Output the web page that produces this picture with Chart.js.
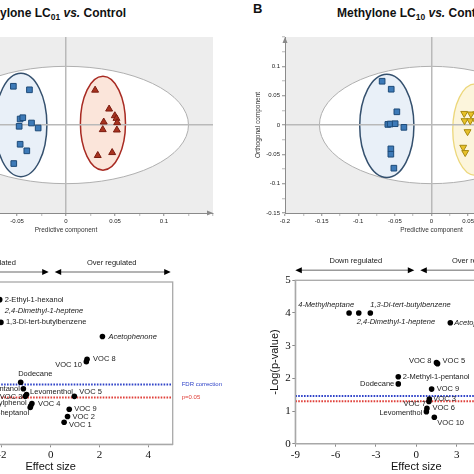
<!DOCTYPE html>
<html>
<head>
<meta charset="utf-8">
<script src="https://cdn.jsdelivr.net/npm/chart.js@4.4.1/dist/chart.umd.min.js"></script>
<style>
  html, body { margin: 0; padding: 0; background: #fff; overflow: hidden; width: 474px; height: 474px; }
  body { position: relative; font-family: "Liberation Sans", Arial, sans-serif; color: #111; }
  canvas { position: absolute; }
  .title { position: absolute; font-weight: bold; font-size: 12px; line-height: 12px; white-space: nowrap; }
  .title .sub { font-size: 8.5px; position: relative; top: 3px; }
  .panel { position: absolute; font-weight: bold; font-size: 13px; line-height: 13px; }
</style>
</head>
<body>
<div class="title" style="left:-28px; top:7px">Methylone LC<span class="sub">01</span> <i>vs.</i> Control</div>
<div class="panel" style="left:253px; top:2px">B</div>
<div class="title" style="left:337px; top:7px">Methylone LC<span class="sub">10</span> <i>vs.</i> Control</div>

<canvas id="scoreA" width="345" height="237" style="left:-125px; top:0"></canvas>
<canvas id="scoreB" width="350" height="237" style="left:237px; top:0"></canvas>
<canvas id="volcanoC" width="357" height="237" style="left:-120px; top:237px"></canvas>
<canvas id="volcanoD" width="320" height="237" style="left:237px; top:237px"></canvas>

<script>
// ---- Score plot A: LC01 vs control ----
const ctrlA_x = [-0.0537, -0.0373, -0.0468, -0.0441, -0.0478, -0.0352, -0.0284, -0.0468, -0.0400, -0.0533, -0.0710];
const ctrlA_y = [0.066, 0.060, 0.0102, 0.0124, -0.0022, 0.0034, -0.0051, -0.0328, -0.044, -0.0657, 0.053];
const lc01_x = [0.0297, 0.0440, 0.0498, 0.0515, 0.0385, 0.0522, 0.0375, 0.0519, 0.0324, 0.0471];
const lc01_y = [0.0594, 0.0272, 0.0158, 0.0113, 0.0051, 0.0040, -0.0079, -0.0085, -0.052, -0.047];
// ellipses: [centre x, centre y, radius x, radius y]
const hotellingA = [0, 0, 0.125, 0.1];
const ctrlEllipseA = [-0.046, 0, 0.0265, 0.088];
const lc01Ellipse = [0.0377, 0.003, 0.023, 0.080];
const majorXA = [-0.15, -0.1, -0.05, 0, 0.05, 0.1];
const majorYA = [-0.15, -0.1, -0.05, 0, 0.05, 0.1];

// ---- Score plot B: LC10 vs control ----
const ctrlB_x = [-0.0674, -0.0550, -0.0473, -0.0596, -0.0564, -0.0496, -0.0377, -0.0555, -0.0555, -0.0514];
const ctrlB_y = [0.0746, 0.061, 0.0225, 0.001, 0.0017, 0.0022, -0.004, -0.0407, -0.0498, -0.0736];
const lc10_x = [0.0447, 0.0538, 0.0451, 0.0529, 0.0492, 0.0433, 0.0460, 0.0610, 0.0605];
const lc10_y = [0.0197, 0.0187, 0.0073, 0.0073, -0.0114, -0.038, -0.047, 0.019, 0.007];
const hotellingB = [0, 0, 0.153, 0.1];
const ctrlEllipseB = [-0.061, -0.0014, 0.037, 0.088];
const lc10Ellipse = [0.060, -0.008, 0.031, 0.078];
const majorXB = [-0.2, -0.15, -0.1, -0.05, 0, 0.05, 0.1, 0.15, 0.2];
const majorYB = [-0.15, -0.1, -0.05, 0, 0.05, 0.1];

// ---- Volcano plot C (LC01) ----
const volcC_names = ['2-Ethyl-1-hexanol', '2,4-Dimethyl-1-heptene', '1,3-Di-tert-butylbenzene', 'Acetophenone',
  'VOC 8', 'VOC 10', 'Dodecane', '2-Methyl-1-pentanol', 'Levomenthol', 'VOC 3', 'VOC 5', 'VOC 4',
  '2,4-Di-tert-butylphenol', '2-Methyl-1-heptanol', 'VOC 9', 'VOC 2', 'VOC 1'];
const volcC_effect = [-2.09, -2.25, -2.04, 2.12, 1.49, 1.46, -1.23, -1.12, -0.99, -1.04, 0.97, -0.77, -0.82, -0.84, 0.76, 0.69, 0.55];
const volcC_logp = [4.01, 3.70, 3.38, 2.99, 2.36, 2.29, 1.72, 1.54, 1.38, 1.33, 1.33, 1.13, 1.06, 1.02, 0.97, 0.77, 0.61];
const volcC_italic = ['2,4-Dimethyl-1-heptene', 'Acetophenone'];
const fdrC = 1.66, pCut = 1.30;
const xTicksC = [-4, -2, 0, 2, 4];
const yTicksC = [0, 1, 2, 3, 4];

// ---- Volcano plot D (LC10) ----
const volcD_names = ['4-Methylheptane', '2,4-Dimethyl-1-heptene', '1,3-Di-tert-butylbenzene', 'Acetophenone',
  'VOC 8', 'VOC 5', '2-Methyl-1-pentanol', 'Dodecane', 'VOC 9', 'VOC 3', 'VOC 7', 'VOC 6', 'Levomenthol', 'VOC 10'];
const volcD_effect = [-5.0, -4.28, -3.42, 2.53, 1.50, 1.58, -1.34, -1.34, 1.14, 0.97, 0.94, 0.79, 0.75, 1.34];
const volcD_logp = [4.0, 4.0, 4.0, 3.70, 2.48, 2.45, 2.05, 1.83, 1.67, 1.37, 1.29, 1.08, 0.98, 0.81];
const volcD_italic = ['4-Methylheptane', '2,4-Dimethyl-1-heptene', '1,3-Di-tert-butylbenzene', 'Acetophenone'];
const fdrD = 1.46;
const xTicksD = [-9, -6, -3, 0, 3, 6, 9];
const yTicksD = [0, 1, 2, 3, 4, 5];

const fontSans = '"Liberation Sans", Arial, sans-serif';
const fontSerif = '"Liberation Serif", "Times New Roman", serif';

const toPoints = (xs, ys) => xs.map((x, i) => ({ x: x, y: ys[i] }));

// label placement per point: [dx, dy, align]
const labelPosC = [[5, 0, 'left'], [9, 0, 'left'], [5, 0, 'left'], [6, 0, 'left'], [6, 0, 'left'], [-4.5, 3, 'right'],
  [-2.5, -8, 'left'], [-3.5, 0, 'right'], [3.5, -3, 'left'], [-3, 0.5, 'right'], [5, -4, 'left'], [6, 0, 'left'],
  [-4, -3, 'right'], [-1, 5, 'right'], [5, 0, 'left'], [5, 0, 'left'], [5, 3, 'left']];
const labelPosD = [[5, -8, 'right'], [-2, 9, 'left'], [0, -8, 'left'], [4, 0, 'left'], [-5, -2, 'right'], [5, -3, 'left'],
  [4.5, 0, 'left'], [-4, 0, 'right'], [5, 0, 'left'], [4, 0, 'left'], [-3, 2, 'right'], [5.5, 0, 'left'],
  [-4, 1, 'right'], [3, 6, 'left']];

function drawEllipse(ctx, xs, ys, e, st) {
  const cx = xs.getPixelForValue(e[0]), cy = ys.getPixelForValue(e[1]);
  const rx = Math.abs(xs.getPixelForValue(e[0] + e[2]) - cx);
  const ry = Math.abs(ys.getPixelForValue(e[1] + e[3]) - cy);
  ctx.beginPath();
  ctx.ellipse(cx, cy, rx, ry, 0, 0, Math.PI * 2);
  ctx.fillStyle = st.fill;
  ctx.fill();
  ctx.lineWidth = st.width;
  ctx.strokeStyle = st.stroke;
  ctx.stroke();
}

// grey plot area, confidence ellipses, axis arrows
const scorePlot = {
  id: 'scorePlot',
  beforeDraw(chart, args, opts) {
    const { ctx, chartArea: a, scales } = chart;
    ctx.save();
    ctx.fillStyle = '#ededed';
    ctx.fillRect(a.left, a.top, a.width, a.height);
    ctx.beginPath();
    ctx.rect(a.left, a.top, a.width, a.height);
    ctx.clip();
    opts.ellipses.forEach(el => drawEllipse(ctx, scales.x, scales.y, el.e, el));
    ctx.restore();
  },
  afterDraw(chart) {
    const { ctx, chartArea: a } = chart;
    ctx.save();
    ctx.fillStyle = '#8a8a8a';
    ctx.beginPath();
    ctx.moveTo(a.right, a.bottom);
    ctx.lineTo(a.right - 6, a.bottom - 2.5);
    ctx.lineTo(a.right - 6, a.bottom + 2.5);
    ctx.closePath();
    ctx.fill();
    ctx.beginPath();
    ctx.moveTo(a.left, a.top);
    ctx.lineTo(a.left - 2.5, a.top + 6);
    ctx.lineTo(a.left + 2.5, a.top + 6);
    ctx.closePath();
    ctx.fill();
    ctx.restore();
  }
};

function scoreAxis(min, max, major, title, size, titlePad) {
  // major ticks every 0.05 with one minor tick between them
  const all = [];
  for (let i = Math.round(min * 40); i <= Math.round(max * 40); i++) all.push(i / 40);
  return {
    type: 'linear', min: min, max: max,
    afterBuildTicks: s => { s.ticks = all.map(v => ({ value: v })); },
    afterFit: s => { if (s.isHorizontal()) s.height = size; else s.width = size; },
    ticks: {
      autoSkip: false, maxRotation: 0, padding: 2, color: '#222',
      font: { family: fontSans, size: 6 },
      callback: v => major.includes(v) ? String(v) : ''
    },
    grid: {
      color: c => (c.tick && c.tick.value === 0) ? '#b9b9b9' : 'rgba(0,0,0,0)',
      lineWidth: 1.5,
      tickLength: 3,
      tickColor: '#8a8a8a',
      tickWidth: c => (c.tick && major.includes(c.tick.value)) ? 1 : 0.6
    },
    border: { color: '#8a8a8a', width: 1 },
    title: { display: true, text: title, color: '#333', font: { family: fontSans, size: 6.5 }, padding: titlePad }
  };
}

function scoreChart(id, cfg) {
  return new Chart(document.getElementById(id), {
    type: 'scatter',
    data: { datasets: cfg.datasets },
    options: {
      responsive: false,
      animation: false,
      layout: { padding: cfg.padding },
      plugins: { legend: { display: false }, tooltip: { enabled: false }, scorePlot: { ellipses: cfg.ellipses } },
      scales: { x: cfg.x, y: cfg.y }
    },
    plugins: [scorePlot]
  });
}

const ctrlStyle = { pointStyle: 'rect', pointRadius: 4, backgroundColor: '#3d7ab8', borderColor: '#1d4a78', borderWidth: 1 };
const hotStyle = { fill: '#ffffff', stroke: '#b0b0b0', width: 1 };
const ctrlEllStyle = { fill: '#e9f0f8', stroke: '#34506e', width: 1.5 };

scoreChart('scoreA', {
  padding: { top: 37, right: 7, bottom: 0, left: 0 },
  ellipses: [
    Object.assign({ e: hotellingA }, hotStyle),
    Object.assign({ e: ctrlEllipseA }, ctrlEllStyle),
    { e: lc01Ellipse, fill: '#fbe5da', stroke: '#a82a22', width: 1.5 }
  ],
  datasets: [
    Object.assign({ data: toPoints(ctrlA_x, ctrlA_y) }, ctrlStyle),
    { data: toPoints(lc01_x, lc01_y), pointStyle: 'triangle', pointRadius: 4, backgroundColor: '#a8321f', borderColor: '#7a1c10', borderWidth: 1 }
  ],
  x: scoreAxis(-0.15, 0.15, majorXA, 'Predictive component', 24, { top: 0, bottom: 3 }),
  y: scoreAxis(-0.15, 0.15, majorYA, 'Orthogonal component', 44, { top: 6, bottom: 0 })
});

scoreChart('scoreB', {
  padding: { top: 37, right: 9, bottom: 0, left: 0 },
  ellipses: [
    Object.assign({ e: hotellingB }, hotStyle),
    Object.assign({ e: ctrlEllipseB }, ctrlEllStyle),
    { e: lc10Ellipse, fill: '#fcf5dc', stroke: '#ecd77a', width: 1.3 }
  ],
  datasets: [
    Object.assign({ data: toPoints(ctrlB_x, ctrlB_y) }, ctrlStyle),
    { data: toPoints(lc10_x, lc10_y), pointStyle: 'triangle', rotation: 180, pointRadius: 4, backgroundColor: '#e8c22a', borderColor: '#a88a10', borderWidth: 1 }
  ],
  x: scoreAxis(-0.2, 0.2, majorXB, 'Predictive component', 24, { top: 0, bottom: 3 }),
  y: scoreAxis(-0.15, 0.15, majorYB, 'Orthogonal component', 48, { top: 17.8, bottom: 0 })
});

// ---- volcano plots ----
function regArrow(ctx, x1, x2, y) {
  ctx.strokeStyle = '#9a9a9a';
  ctx.lineWidth = 1.5;
  ctx.beginPath();
  ctx.moveTo(x1 + 5, y);
  ctx.lineTo(x2 - 5, y);
  ctx.stroke();
  ctx.fillStyle = '#000';
  ctx.beginPath();
  ctx.moveTo(x1, y); ctx.lineTo(x1 + 6.5, y - 3); ctx.lineTo(x1 + 6.5, y + 3); ctx.closePath();
  ctx.fill();
  ctx.beginPath();
  ctx.moveTo(x2, y); ctx.lineTo(x2 - 6.5, y - 3); ctx.lineTo(x2 - 6.5, y + 3); ctx.closePath();
  ctx.fill();
}

const volcanoPlot = {
  id: 'volcanoPlot',
  beforeDatasetsDraw(chart, args, o) {
    const { ctx, chartArea: a, scales: { y } } = chart;
    ctx.save();
    o.thresholds.forEach(t => {
      const py = y.getPixelForValue(t.value);
      ctx.setLineDash([1.6, 1.3]);
      ctx.lineWidth = 2;
      ctx.strokeStyle = t.color;
      ctx.beginPath();
      ctx.moveTo(a.left, py);
      ctx.lineTo(a.right - 1, py);
      ctx.stroke();
      ctx.setLineDash([]);
      ctx.fillStyle = t.color;
      ctx.font = '6px ' + fontSans;
      ctx.textAlign = 'left';
      ctx.textBaseline = 'middle';
      ctx.fillText(t.text, a.right + 9, py);
    });
    ctx.restore();
  },
  afterDatasetsDraw(chart, args, o) {
    const { ctx } = chart;
    const meta = chart.getDatasetMeta(0);
    ctx.save();
    ctx.fillStyle = '#1a1a1a';
    ctx.textBaseline = 'middle';
    meta.data.forEach((pt, i) => {
      const name = o.names[i];
      const p = o.labelPos[i];
      ctx.font = (o.italic.includes(name) ? 'italic ' : '') + '7.5px ' + fontSans;
      ctx.textAlign = p[2];
      ctx.fillText(name, pt.x + p[0], pt.y + p[1]);
    });
    ctx.restore();
  },
  afterDraw(chart) {
    const { ctx, chartArea: a, scales: { x } } = chart;
    ctx.save();
    ctx.strokeStyle = '#a8a8a8';
    ctx.lineWidth = 1.3;
    ctx.strokeRect(a.left, a.top, a.width, a.height);
    const x0 = x.getPixelForValue(0);
    const ay = a.top - 10;
    regArrow(ctx, a.left, x0 - 2, ay);
    regArrow(ctx, x0 + 4, a.right - 2, ay);
    ctx.fillStyle = '#1a1a1a';
    ctx.font = '7.5px ' + fontSans;
    ctx.textAlign = 'center';
    ctx.textBaseline = 'middle';
    ctx.fillText('Down regulated', (a.left + x0) / 2, a.top - 19);
    ctx.fillText('Over regulated', (x0 + a.right) / 2, a.top - 19);
    ctx.restore();
  }
};

function volcAxis(min, max, ticksArr, title, size, titlePad) {
  return {
    type: 'linear', min: min, max: max,
    afterBuildTicks: s => { s.ticks = ticksArr.map(v => ({ value: v })); },
    afterFit: s => { if (s.isHorizontal()) s.height = size; else s.width = size; },
    ticks: { autoSkip: false, maxRotation: 0, padding: 1.5, color: '#111', font: { family: fontSerif, size: 11 } },
    grid: { drawOnChartArea: false, tickLength: 3, tickColor: '#8a8a8a' },
    border: { color: '#a8a8a8', width: 1.3 },
    title: { display: true, text: title, color: '#111', font: { family: fontSans, size: 11 }, padding: titlePad }
  };
}

function volcanoChart(id, cfg) {
  return new Chart(document.getElementById(id), {
    type: 'scatter',
    data: { datasets: [{ data: toPoints(cfg.effect, cfg.logp), pointRadius: 2.8, backgroundColor: '#000', borderWidth: 0 }] },
    options: {
      responsive: false,
      animation: false,
      layout: { padding: cfg.padding },
      plugins: {
        legend: { display: false }, tooltip: { enabled: false },
        volcanoPlot: { names: cfg.names, labelPos: cfg.labelPos, italic: cfg.italic, thresholds: cfg.thresholds }
      },
      scales: { x: cfg.x, y: cfg.y }
    },
    plugins: [volcanoPlot]
  });
}

volcanoChart('volcanoC', {
  effect: volcC_effect, logp: volcC_logp, names: volcC_names, italic: volcC_italic, labelPos: labelPosC,
  padding: { top: 45, right: 64.3, bottom: 0, left: 0 },
  thresholds: [{ value: fdrC, color: '#2f43c8', text: 'FDR correction' }, { value: pCut, color: '#e0403a', text: 'p=0.05' }],
  x: volcAxis(-5, 5, xTicksC, 'Effect size', 29.7, { top: 0, bottom: 0 }),
  y: volcAxis(0, 4.5, yTicksC, '-Log(p-value)', 48.7, { top: 10, bottom: 0 })
});

volcanoChart('volcanoD', {
  effect: volcD_effect, logp: volcD_logp, names: volcD_names, italic: volcD_italic, labelPos: labelPosD,
  padding: { top: 43.3, right: 19.7, bottom: 0, left: 0 },
  thresholds: [{ value: fdrD, color: '#2f43c8', text: 'FDR correction' }, { value: pCut, color: '#e0403a', text: 'p=0.05' }],
  x: volcAxis(-9, 9, xTicksD, 'Effect size', 30.3, { top: 0, bottom: 0 }),
  y: volcAxis(0, 5, yTicksD, '-Log(p-value)', 58.3, { top: 31.7, bottom: 0 })
});
</script>
</body>
</html>
